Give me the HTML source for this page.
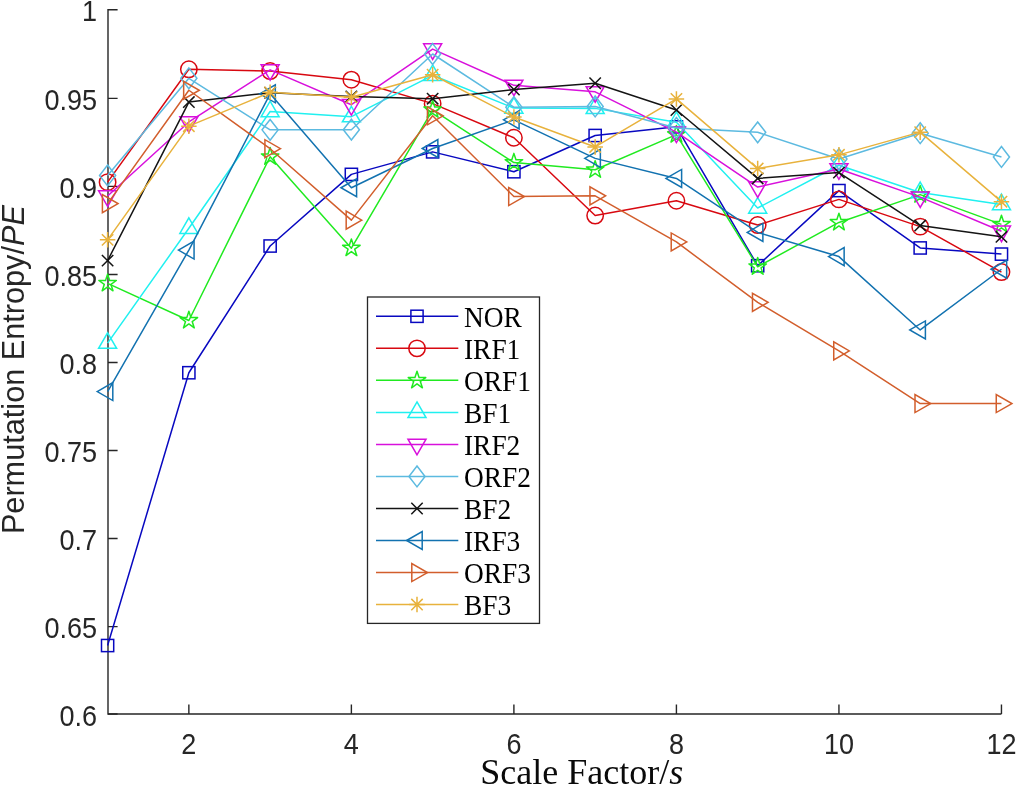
<!DOCTYPE html><html><head><meta charset="utf-8"><style>html,body{margin:0;padding:0;background:#fff;width:1016px;height:785px;overflow:hidden}svg{display:block}</style></head><body>
<svg width="1016" height="785" viewBox="0 0 1016 785">
<rect width="1016" height="785" fill="#fff"/>
<path d="M108 9V714H1001.46" fill="none" stroke="#262626" stroke-width="1.4"/>
<path d="M108 714H117.6M108 626.61H117.6M108 538.57H117.6M108 450.53H117.6M108 362.49H117.6M108 274.45H117.6M108 186.41H117.6M108 98.37H117.6M108 9.7H117.6M188.86 714V704.4M351.38 714V704.4M513.9 714V704.4M676.42 714V704.4M838.94 714V704.4M1001.46 714V704.4" fill="none" stroke="#262626" stroke-width="1.4"/>
<polyline points="107.6,645.54 188.86,372.74 270.12,246.02 351.38,174.38 432.64,151.86 513.9,171.74 595.16,135.49 676.42,126.86 757.68,265.73 838.94,190.58 920.2,247.95 1001.46,254.11" fill="none" stroke="#0808C0" stroke-width="1.5" stroke-linejoin="round"/>
<rect x="101.5" y="639.44" width="12.2" height="12.2" fill="none" stroke="#0808C0" stroke-width="1.5"/>
<rect x="182.76" y="366.64" width="12.2" height="12.2" fill="none" stroke="#0808C0" stroke-width="1.5"/>
<rect x="264.02" y="239.92" width="12.2" height="12.2" fill="none" stroke="#0808C0" stroke-width="1.5"/>
<rect x="345.28" y="168.28" width="12.2" height="12.2" fill="none" stroke="#0808C0" stroke-width="1.5"/>
<rect x="426.54" y="145.76" width="12.2" height="12.2" fill="none" stroke="#0808C0" stroke-width="1.5"/>
<rect x="507.8" y="165.64" width="12.2" height="12.2" fill="none" stroke="#0808C0" stroke-width="1.5"/>
<rect x="589.06" y="129.39" width="12.2" height="12.2" fill="none" stroke="#0808C0" stroke-width="1.5"/>
<rect x="670.32" y="120.76" width="12.2" height="12.2" fill="none" stroke="#0808C0" stroke-width="1.5"/>
<rect x="751.58" y="259.63" width="12.2" height="12.2" fill="none" stroke="#0808C0" stroke-width="1.5"/>
<rect x="832.84" y="184.48" width="12.2" height="12.2" fill="none" stroke="#0808C0" stroke-width="1.5"/>
<rect x="914.1" y="241.85" width="12.2" height="12.2" fill="none" stroke="#0808C0" stroke-width="1.5"/>
<rect x="995.36" y="248.01" width="12.2" height="12.2" fill="none" stroke="#0808C0" stroke-width="1.5"/>
<polyline points="107.6,182.13 188.86,69.31 270.12,71.07 351.38,79.7 432.64,103.63 513.9,137.78 595.16,215.57 676.42,200.78 757.68,225.07 838.94,199.38 920.2,226.66 1001.46,272.06" fill="none" stroke="#D80810" stroke-width="1.5" stroke-linejoin="round"/>
<circle cx="107.6" cy="182.13" r="8.2" fill="none" stroke="#D80810" stroke-width="1.5"/>
<circle cx="188.86" cy="69.31" r="8.2" fill="none" stroke="#D80810" stroke-width="1.5"/>
<circle cx="270.12" cy="71.07" r="8.2" fill="none" stroke="#D80810" stroke-width="1.5"/>
<circle cx="351.38" cy="79.7" r="8.2" fill="none" stroke="#D80810" stroke-width="1.5"/>
<circle cx="432.64" cy="103.63" r="8.2" fill="none" stroke="#D80810" stroke-width="1.5"/>
<circle cx="513.9" cy="137.78" r="8.2" fill="none" stroke="#D80810" stroke-width="1.5"/>
<circle cx="595.16" cy="215.57" r="8.2" fill="none" stroke="#D80810" stroke-width="1.5"/>
<circle cx="676.42" cy="200.78" r="8.2" fill="none" stroke="#D80810" stroke-width="1.5"/>
<circle cx="757.68" cy="225.07" r="8.2" fill="none" stroke="#D80810" stroke-width="1.5"/>
<circle cx="838.94" cy="199.38" r="8.2" fill="none" stroke="#D80810" stroke-width="1.5"/>
<circle cx="920.2" cy="226.66" r="8.2" fill="none" stroke="#D80810" stroke-width="1.5"/>
<circle cx="1001.46" cy="272.06" r="8.2" fill="none" stroke="#D80810" stroke-width="1.5"/>
<polyline points="107.6,283.33 188.86,320.46 270.12,156.78 351.38,248.13 432.64,109.79 513.9,162.59 595.16,169.81 676.42,134.61 757.68,266.78 838.94,222.43 920.2,194.62 1001.46,224.37" fill="none" stroke="#20EA20" stroke-width="1.5" stroke-linejoin="round"/>
<polygon points="107.6,274.13 109.67,280.48 116.35,280.49 110.94,284.41 113.01,290.77 107.6,286.84 102.19,290.77 104.26,284.41 98.85,280.49 105.53,280.48" fill="none" stroke="#20EA20" stroke-width="1.5" stroke-linejoin="round"/>
<polygon points="188.86,311.26 190.93,317.62 197.61,317.62 192.2,321.55 194.27,327.91 188.86,323.98 183.45,327.91 185.52,321.55 180.11,317.62 186.79,317.62" fill="none" stroke="#20EA20" stroke-width="1.5" stroke-linejoin="round"/>
<polygon points="270.12,147.58 272.19,153.94 278.87,153.94 273.46,157.87 275.53,164.23 270.12,160.3 264.71,164.23 266.78,157.87 261.37,153.94 268.05,153.94" fill="none" stroke="#20EA20" stroke-width="1.5" stroke-linejoin="round"/>
<polygon points="351.38,238.93 353.45,245.28 360.13,245.29 354.72,249.21 356.79,255.57 351.38,251.64 345.97,255.57 348.04,249.21 342.63,245.29 349.31,245.28" fill="none" stroke="#20EA20" stroke-width="1.5" stroke-linejoin="round"/>
<polygon points="432.64,100.59 434.71,106.95 441.39,106.95 435.98,110.88 438.05,117.23 432.64,113.31 427.23,117.23 429.3,110.88 423.89,106.95 430.57,106.95" fill="none" stroke="#20EA20" stroke-width="1.5" stroke-linejoin="round"/>
<polygon points="513.9,153.39 515.97,159.75 522.65,159.75 517.24,163.68 519.31,170.03 513.9,166.11 508.49,170.03 510.56,163.68 505.15,159.75 511.83,159.75" fill="none" stroke="#20EA20" stroke-width="1.5" stroke-linejoin="round"/>
<polygon points="595.16,160.61 597.23,166.96 603.91,166.97 598.5,170.89 600.57,177.25 595.16,173.32 589.75,177.25 591.82,170.89 586.41,166.97 593.09,166.96" fill="none" stroke="#20EA20" stroke-width="1.5" stroke-linejoin="round"/>
<polygon points="676.42,125.41 678.49,131.76 685.17,131.77 679.76,135.69 681.83,142.05 676.42,138.12 671.01,142.05 673.08,135.69 667.67,131.77 674.35,131.76" fill="none" stroke="#20EA20" stroke-width="1.5" stroke-linejoin="round"/>
<polygon points="757.68,257.58 759.75,263.94 766.43,263.94 761.02,267.87 763.09,274.23 757.68,270.3 752.27,274.23 754.34,267.87 748.93,263.94 755.61,263.94" fill="none" stroke="#20EA20" stroke-width="1.5" stroke-linejoin="round"/>
<polygon points="838.94,213.23 841.01,219.59 847.69,219.59 842.28,223.52 844.35,229.87 838.94,225.95 833.53,229.87 835.6,223.52 830.19,219.59 836.87,219.59" fill="none" stroke="#20EA20" stroke-width="1.5" stroke-linejoin="round"/>
<polygon points="920.2,185.42 922.27,191.78 928.95,191.78 923.54,195.71 925.61,202.07 920.2,198.14 914.79,202.07 916.86,195.71 911.45,191.78 918.13,191.78" fill="none" stroke="#20EA20" stroke-width="1.5" stroke-linejoin="round"/>
<polygon points="1001.46,215.17 1003.53,221.52 1010.21,221.53 1004.8,225.45 1006.87,231.81 1001.46,227.88 996.05,231.81 998.12,225.45 992.71,221.53 999.39,221.52" fill="none" stroke="#20EA20" stroke-width="1.5" stroke-linejoin="round"/>
<polyline points="107.6,343.17 188.86,228.24 270.12,111.55 351.38,116.66 432.64,75.3 513.9,108.03 595.16,108.38 676.42,122.29 757.68,208 838.94,165.23 920.2,192.51 1001.46,204.48" fill="none" stroke="#20F0F0" stroke-width="1.5" stroke-linejoin="round"/>
<polygon points="107.6,332.77 116.61,348.37 98.59,348.37" fill="none" stroke="#20F0F0" stroke-width="1.5"/>
<polygon points="188.86,217.84 197.87,233.44 179.85,233.44" fill="none" stroke="#20F0F0" stroke-width="1.5"/>
<polygon points="270.12,101.15 279.13,116.75 261.11,116.75" fill="none" stroke="#20F0F0" stroke-width="1.5"/>
<polygon points="351.38,106.26 360.39,121.86 342.37,121.86" fill="none" stroke="#20F0F0" stroke-width="1.5"/>
<polygon points="432.64,64.9 441.65,80.5 423.63,80.5" fill="none" stroke="#20F0F0" stroke-width="1.5"/>
<polygon points="513.9,97.63 522.91,113.23 504.89,113.23" fill="none" stroke="#20F0F0" stroke-width="1.5"/>
<polygon points="595.16,97.98 604.17,113.58 586.15,113.58" fill="none" stroke="#20F0F0" stroke-width="1.5"/>
<polygon points="676.42,111.89 685.43,127.49 667.41,127.49" fill="none" stroke="#20F0F0" stroke-width="1.5"/>
<polygon points="757.68,197.6 766.69,213.2 748.67,213.2" fill="none" stroke="#20F0F0" stroke-width="1.5"/>
<polygon points="838.94,154.83 847.95,170.43 829.93,170.43" fill="none" stroke="#20F0F0" stroke-width="1.5"/>
<polygon points="920.2,182.11 929.21,197.71 911.19,197.71" fill="none" stroke="#20F0F0" stroke-width="1.5"/>
<polygon points="1001.46,194.08 1010.47,209.68 992.45,209.68" fill="none" stroke="#20F0F0" stroke-width="1.5"/>
<polyline points="107.6,196.03 188.86,121.94 270.12,69.84 351.38,104.69 432.64,49.07 513.9,85.33 595.16,91.84 676.42,132.14 757.68,187.06 838.94,168.93 920.2,197.09 1001.46,231.23" fill="none" stroke="#D810DC" stroke-width="1.5" stroke-linejoin="round"/>
<polygon points="107.6,206.43 98.59,190.83 116.61,190.83" fill="none" stroke="#D810DC" stroke-width="1.5"/>
<polygon points="188.86,132.34 179.85,116.74 197.87,116.74" fill="none" stroke="#D810DC" stroke-width="1.5"/>
<polygon points="270.12,80.24 261.11,64.64 279.13,64.64" fill="none" stroke="#D810DC" stroke-width="1.5"/>
<polygon points="351.38,115.09 342.37,99.49 360.39,99.49" fill="none" stroke="#D810DC" stroke-width="1.5"/>
<polygon points="432.64,59.47 423.63,43.87 441.65,43.87" fill="none" stroke="#D810DC" stroke-width="1.5"/>
<polygon points="513.9,95.73 504.89,80.13 522.91,80.13" fill="none" stroke="#D810DC" stroke-width="1.5"/>
<polygon points="595.16,102.24 586.15,86.64 604.17,86.64" fill="none" stroke="#D810DC" stroke-width="1.5"/>
<polygon points="676.42,142.54 667.41,126.94 685.43,126.94" fill="none" stroke="#D810DC" stroke-width="1.5"/>
<polygon points="757.68,197.46 748.67,181.86 766.69,181.86" fill="none" stroke="#D810DC" stroke-width="1.5"/>
<polygon points="838.94,179.33 829.93,163.73 847.95,163.73" fill="none" stroke="#D810DC" stroke-width="1.5"/>
<polygon points="920.2,207.49 911.19,191.89 929.21,191.89" fill="none" stroke="#D810DC" stroke-width="1.5"/>
<polygon points="1001.46,241.63 992.45,226.03 1010.47,226.03" fill="none" stroke="#D810DC" stroke-width="1.5"/>
<polyline points="107.6,175.44 188.86,78.29 270.12,129.86 351.38,129.68 432.64,54 513.9,107.15 595.16,106.45 676.42,127.92 757.68,132.32 838.94,159.07 920.2,133.2 1001.46,156.96" fill="none" stroke="#5CBAE0" stroke-width="1.5" stroke-linejoin="round"/>
<polygon points="107.6,165.04 115.65,175.44 107.6,185.84 99.55,175.44" fill="none" stroke="#5CBAE0" stroke-width="1.5"/>
<polygon points="188.86,67.89 196.91,78.29 188.86,88.69 180.81,78.29" fill="none" stroke="#5CBAE0" stroke-width="1.5"/>
<polygon points="270.12,119.46 278.17,129.86 270.12,140.26 262.07,129.86" fill="none" stroke="#5CBAE0" stroke-width="1.5"/>
<polygon points="351.38,119.28 359.43,129.68 351.38,140.08 343.33,129.68" fill="none" stroke="#5CBAE0" stroke-width="1.5"/>
<polygon points="432.64,43.6 440.69,54 432.64,64.4 424.59,54" fill="none" stroke="#5CBAE0" stroke-width="1.5"/>
<polygon points="513.9,96.75 521.95,107.15 513.9,117.55 505.85,107.15" fill="none" stroke="#5CBAE0" stroke-width="1.5"/>
<polygon points="595.16,96.05 603.21,106.45 595.16,116.85 587.11,106.45" fill="none" stroke="#5CBAE0" stroke-width="1.5"/>
<polygon points="676.42,117.52 684.47,127.92 676.42,138.32 668.37,127.92" fill="none" stroke="#5CBAE0" stroke-width="1.5"/>
<polygon points="757.68,121.92 765.73,132.32 757.68,142.72 749.63,132.32" fill="none" stroke="#5CBAE0" stroke-width="1.5"/>
<polygon points="838.94,148.67 846.99,159.07 838.94,169.47 830.89,159.07" fill="none" stroke="#5CBAE0" stroke-width="1.5"/>
<polygon points="920.2,122.8 928.25,133.2 920.2,143.6 912.15,133.2" fill="none" stroke="#5CBAE0" stroke-width="1.5"/>
<polygon points="1001.46,146.56 1009.51,156.96 1001.46,167.36 993.41,156.96" fill="none" stroke="#5CBAE0" stroke-width="1.5"/>
<polyline points="107.6,260.62 188.86,102.05 270.12,92.72 351.38,96.42 432.64,98.7 513.9,89.55 595.16,83.22 676.42,109.97 757.68,178.43 838.94,172.62 920.2,225.6 1001.46,236.86" fill="none" stroke="#141414" stroke-width="1.5" stroke-linejoin="round"/>
<path d="M101.9 254.92L113.3 266.32M101.9 266.32L113.3 254.92" fill="none" stroke="#141414" stroke-width="1.5"/>
<path d="M183.16 96.35L194.56 107.75M183.16 107.75L194.56 96.35" fill="none" stroke="#141414" stroke-width="1.5"/>
<path d="M264.42 87.02L275.82 98.42M264.42 98.42L275.82 87.02" fill="none" stroke="#141414" stroke-width="1.5"/>
<path d="M345.68 90.72L357.08 102.12M345.68 102.12L357.08 90.72" fill="none" stroke="#141414" stroke-width="1.5"/>
<path d="M426.94 93L438.34 104.4M426.94 104.4L438.34 93" fill="none" stroke="#141414" stroke-width="1.5"/>
<path d="M508.2 83.85L519.6 95.25M508.2 95.25L519.6 83.85" fill="none" stroke="#141414" stroke-width="1.5"/>
<path d="M589.46 77.52L600.86 88.92M589.46 88.92L600.86 77.52" fill="none" stroke="#141414" stroke-width="1.5"/>
<path d="M670.72 104.27L682.12 115.67M670.72 115.67L682.12 104.27" fill="none" stroke="#141414" stroke-width="1.5"/>
<path d="M751.98 172.73L763.38 184.13M751.98 184.13L763.38 172.73" fill="none" stroke="#141414" stroke-width="1.5"/>
<path d="M833.24 166.92L844.64 178.32M833.24 178.32L844.64 166.92" fill="none" stroke="#141414" stroke-width="1.5"/>
<path d="M914.5 219.9L925.9 231.3M914.5 231.3L925.9 219.9" fill="none" stroke="#141414" stroke-width="1.5"/>
<path d="M995.76 231.16L1007.16 242.56M995.76 242.56L1007.16 231.16" fill="none" stroke="#141414" stroke-width="1.5"/>
<polyline points="107.6,391.57 188.86,250.06 270.12,93.78 351.38,187.76 432.64,148.51 513.9,119.82 595.16,158.37 676.42,178.43 757.68,232.46 838.94,256.58 920.2,329.97 1001.46,269.25" fill="none" stroke="#1272B0" stroke-width="1.5" stroke-linejoin="round"/>
<polygon points="97.2,391.57 112.8,382.56 112.8,400.57" fill="none" stroke="#1272B0" stroke-width="1.5"/>
<polygon points="178.46,250.06 194.06,241.06 194.06,259.07" fill="none" stroke="#1272B0" stroke-width="1.5"/>
<polygon points="259.72,93.78 275.32,84.77 275.32,102.78" fill="none" stroke="#1272B0" stroke-width="1.5"/>
<polygon points="340.98,187.76 356.58,178.75 356.58,196.77" fill="none" stroke="#1272B0" stroke-width="1.5"/>
<polygon points="422.24,148.51 437.84,139.51 437.84,157.52" fill="none" stroke="#1272B0" stroke-width="1.5"/>
<polygon points="503.5,119.82 519.1,110.82 519.1,128.83" fill="none" stroke="#1272B0" stroke-width="1.5"/>
<polygon points="584.76,158.37 600.36,149.36 600.36,167.37" fill="none" stroke="#1272B0" stroke-width="1.5"/>
<polygon points="666.02,178.43 681.62,169.43 681.62,187.44" fill="none" stroke="#1272B0" stroke-width="1.5"/>
<polygon points="747.28,232.46 762.88,223.46 762.88,241.47" fill="none" stroke="#1272B0" stroke-width="1.5"/>
<polygon points="828.54,256.58 844.14,247.57 844.14,265.58" fill="none" stroke="#1272B0" stroke-width="1.5"/>
<polygon points="909.8,329.97 925.4,320.96 925.4,338.97" fill="none" stroke="#1272B0" stroke-width="1.5"/>
<polygon points="991.06,269.25 1006.66,260.24 1006.66,278.25" fill="none" stroke="#1272B0" stroke-width="1.5"/>
<polyline points="107.6,203.6 188.86,90.26 270.12,148.69 351.38,220.14 432.64,115.78 513.9,196.56 595.16,195.86 676.42,241.97 757.68,302.34 838.94,350.91 920.2,403.54 1001.46,403.54" fill="none" stroke="#D25E2C" stroke-width="1.5" stroke-linejoin="round"/>
<polygon points="118,203.6 102.4,212.61 102.4,194.59" fill="none" stroke="#D25E2C" stroke-width="1.5"/>
<polygon points="199.26,90.26 183.66,99.26 183.66,81.25" fill="none" stroke="#D25E2C" stroke-width="1.5"/>
<polygon points="280.52,148.69 264.92,157.69 264.92,139.68" fill="none" stroke="#D25E2C" stroke-width="1.5"/>
<polygon points="361.78,220.14 346.18,229.15 346.18,211.14" fill="none" stroke="#D25E2C" stroke-width="1.5"/>
<polygon points="443.04,115.78 427.44,124.78 427.44,106.77" fill="none" stroke="#D25E2C" stroke-width="1.5"/>
<polygon points="524.3,196.56 508.7,205.57 508.7,187.55" fill="none" stroke="#D25E2C" stroke-width="1.5"/>
<polygon points="605.56,195.86 589.96,204.86 589.96,186.85" fill="none" stroke="#D25E2C" stroke-width="1.5"/>
<polygon points="686.82,241.97 671.22,250.97 671.22,232.96" fill="none" stroke="#D25E2C" stroke-width="1.5"/>
<polygon points="768.08,302.34 752.48,311.34 752.48,293.33" fill="none" stroke="#D25E2C" stroke-width="1.5"/>
<polygon points="849.34,350.91 833.74,359.92 833.74,341.91" fill="none" stroke="#D25E2C" stroke-width="1.5"/>
<polygon points="930.6,403.54 915,412.54 915,394.53" fill="none" stroke="#D25E2C" stroke-width="1.5"/>
<polygon points="1011.86,403.54 996.26,412.54 996.26,394.53" fill="none" stroke="#D25E2C" stroke-width="1.5"/>
<polyline points="107.6,239.86 188.86,126.16 270.12,92.37 351.38,97.3 432.64,74.77 513.9,117.01 595.16,146.93 676.42,98.88 757.68,168.58 838.94,154.85 920.2,132.14 1001.46,201.66" fill="none" stroke="#E8B23C" stroke-width="1.5" stroke-linejoin="round"/>
<path d="M99.85 239.86L115.35 239.86M107.6 232.11L107.6 247.61M101.9 234.16L113.3 245.56M101.9 245.56L113.3 234.16" fill="none" stroke="#E8B23C" stroke-width="1.5"/>
<path d="M181.11 126.16L196.61 126.16M188.86 118.41L188.86 133.91M183.16 120.46L194.56 131.86M183.16 131.86L194.56 120.46" fill="none" stroke="#E8B23C" stroke-width="1.5"/>
<path d="M262.37 92.37L277.87 92.37M270.12 84.62L270.12 100.12M264.42 86.67L275.82 98.07M264.42 98.07L275.82 86.67" fill="none" stroke="#E8B23C" stroke-width="1.5"/>
<path d="M343.63 97.3L359.13 97.3M351.38 89.55L351.38 105.05M345.68 91.6L357.08 103M345.68 103L357.08 91.6" fill="none" stroke="#E8B23C" stroke-width="1.5"/>
<path d="M424.89 74.77L440.39 74.77M432.64 67.02L432.64 82.52M426.94 69.07L438.34 80.47M426.94 80.47L438.34 69.07" fill="none" stroke="#E8B23C" stroke-width="1.5"/>
<path d="M506.15 117.01L521.65 117.01M513.9 109.26L513.9 124.76M508.2 111.31L519.6 122.71M508.2 122.71L519.6 111.31" fill="none" stroke="#E8B23C" stroke-width="1.5"/>
<path d="M587.41 146.93L602.91 146.93M595.16 139.18L595.16 154.68M589.46 141.23L600.86 152.63M589.46 152.63L600.86 141.23" fill="none" stroke="#E8B23C" stroke-width="1.5"/>
<path d="M668.67 98.88L684.17 98.88M676.42 91.13L676.42 106.63M670.72 93.18L682.12 104.58M670.72 104.58L682.12 93.18" fill="none" stroke="#E8B23C" stroke-width="1.5"/>
<path d="M749.93 168.58L765.43 168.58M757.68 160.83L757.68 176.33M751.98 162.88L763.38 174.28M751.98 174.28L763.38 162.88" fill="none" stroke="#E8B23C" stroke-width="1.5"/>
<path d="M831.19 154.85L846.69 154.85M838.94 147.1L838.94 162.6M833.24 149.15L844.64 160.55M833.24 160.55L844.64 149.15" fill="none" stroke="#E8B23C" stroke-width="1.5"/>
<path d="M912.45 132.14L927.95 132.14M920.2 124.39L920.2 139.89M914.5 126.44L925.9 137.84M914.5 137.84L925.9 126.44" fill="none" stroke="#E8B23C" stroke-width="1.5"/>
<path d="M993.71 201.66L1009.21 201.66M1001.46 193.91L1001.46 209.41M995.76 195.96L1007.16 207.36M995.76 207.36L1007.16 195.96" fill="none" stroke="#E8B23C" stroke-width="1.5"/>
<g font-family="Liberation Sans, Arial, sans-serif" font-size="29.4" fill="#262626"><text transform="translate(97.1 725.6) scale(0.92 1)" text-anchor="end">0.6</text><text transform="translate(97.1 637.6) scale(0.92 1)" text-anchor="end">0.65</text><text transform="translate(97.1 549.6) scale(0.92 1)" text-anchor="end">0.7</text><text transform="translate(97.1 461.6) scale(0.92 1)" text-anchor="end">0.75</text><text transform="translate(97.1 373.6) scale(0.92 1)" text-anchor="end">0.8</text><text transform="translate(97.1 285.6) scale(0.92 1)" text-anchor="end">0.85</text><text transform="translate(97.1 197.6) scale(0.92 1)" text-anchor="end">0.9</text><text transform="translate(97.1 109.6) scale(0.92 1)" text-anchor="end">0.95</text><text transform="translate(97.1 20.8) scale(0.92 1)" text-anchor="end">1</text><text transform="translate(188.86 753.6) scale(0.92 1)" text-anchor="middle">2</text><text transform="translate(351.38 753.6) scale(0.92 1)" text-anchor="middle">4</text><text transform="translate(513.9 753.6) scale(0.92 1)" text-anchor="middle">6</text><text transform="translate(676.42 753.6) scale(0.92 1)" text-anchor="middle">8</text><text transform="translate(838.94 753.6) scale(0.92 1)" text-anchor="middle">10</text><text transform="translate(1001.46 753.6) scale(0.92 1)" text-anchor="middle">12</text></g>
<text transform="translate(24.3 534.1) rotate(-90) scale(0.974 1)" font-family="Liberation Sans, Arial, sans-serif" font-size="31.5" fill="#262626">Permutation Entropy/<tspan font-style="italic">PE</tspan></text>
<text x="480.3" y="783.9" font-family="Liberation Serif, Times New Roman, serif" font-size="36" fill="#0a0a0a">Scale Factor/<tspan font-style="italic">s</tspan></text>
<rect x="367.5" y="297" width="172" height="326.4" fill="#fff" stroke="#262626" stroke-width="1.3"/>
<line x1="376" y1="316.3" x2="458.3" y2="316.3" stroke="#0808C0" stroke-width="1.5"/><rect x="410.9" y="310.2" width="12.2" height="12.2" fill="none" stroke="#0808C0" stroke-width="1.5"/><text transform="translate(464 326.7) scale(0.965 1)" font-family="Liberation Serif, Times New Roman, serif" font-size="28.4" fill="#000">NOR</text><line x1="376" y1="348.33" x2="458.3" y2="348.33" stroke="#D80810" stroke-width="1.5"/><circle cx="417" cy="348.33" r="8.2" fill="none" stroke="#D80810" stroke-width="1.5"/><text transform="translate(464 358.73) scale(0.965 1)" font-family="Liberation Serif, Times New Roman, serif" font-size="28.4" fill="#000">IRF1</text><line x1="376" y1="380.36" x2="458.3" y2="380.36" stroke="#20EA20" stroke-width="1.5"/><polygon points="417,371.16 419.07,377.52 425.75,377.52 420.34,381.45 422.41,387.8 417,383.87 411.59,387.8 413.66,381.45 408.25,377.52 414.93,377.52" fill="none" stroke="#20EA20" stroke-width="1.5" stroke-linejoin="round"/><text transform="translate(464 390.76) scale(0.965 1)" font-family="Liberation Serif, Times New Roman, serif" font-size="28.4" fill="#000">ORF1</text><line x1="376" y1="412.39" x2="458.3" y2="412.39" stroke="#20F0F0" stroke-width="1.5"/><polygon points="417,401.99 426.01,417.59 407.99,417.59" fill="none" stroke="#20F0F0" stroke-width="1.5"/><text transform="translate(464 422.79) scale(0.965 1)" font-family="Liberation Serif, Times New Roman, serif" font-size="28.4" fill="#000">BF1</text><line x1="376" y1="444.42" x2="458.3" y2="444.42" stroke="#D810DC" stroke-width="1.5"/><polygon points="417,454.82 407.99,439.22 426.01,439.22" fill="none" stroke="#D810DC" stroke-width="1.5"/><text transform="translate(464 454.82) scale(0.965 1)" font-family="Liberation Serif, Times New Roman, serif" font-size="28.4" fill="#000">IRF2</text><line x1="376" y1="476.45" x2="458.3" y2="476.45" stroke="#5CBAE0" stroke-width="1.5"/><polygon points="417,466.05 425.05,476.45 417,486.85 408.95,476.45" fill="none" stroke="#5CBAE0" stroke-width="1.5"/><text transform="translate(464 486.85) scale(0.965 1)" font-family="Liberation Serif, Times New Roman, serif" font-size="28.4" fill="#000">ORF2</text><line x1="376" y1="508.48" x2="458.3" y2="508.48" stroke="#141414" stroke-width="1.5"/><path d="M411.3 502.78L422.7 514.18M411.3 514.18L422.7 502.78" fill="none" stroke="#141414" stroke-width="1.5"/><text transform="translate(464 518.88) scale(0.965 1)" font-family="Liberation Serif, Times New Roman, serif" font-size="28.4" fill="#000">BF2</text><line x1="376" y1="540.51" x2="458.3" y2="540.51" stroke="#1272B0" stroke-width="1.5"/><polygon points="406.6,540.51 422.2,531.5 422.2,549.52" fill="none" stroke="#1272B0" stroke-width="1.5"/><text transform="translate(464 550.91) scale(0.965 1)" font-family="Liberation Serif, Times New Roman, serif" font-size="28.4" fill="#000">IRF3</text><line x1="376" y1="572.54" x2="458.3" y2="572.54" stroke="#D25E2C" stroke-width="1.5"/><polygon points="427.4,572.54 411.8,581.55 411.8,563.53" fill="none" stroke="#D25E2C" stroke-width="1.5"/><text transform="translate(464 582.94) scale(0.965 1)" font-family="Liberation Serif, Times New Roman, serif" font-size="28.4" fill="#000">ORF3</text><line x1="376" y1="604.57" x2="458.3" y2="604.57" stroke="#E8B23C" stroke-width="1.5"/><path d="M409.25 604.57L424.75 604.57M417 596.82L417 612.32M411.3 598.87L422.7 610.27M411.3 610.27L422.7 598.87" fill="none" stroke="#E8B23C" stroke-width="1.5"/><text transform="translate(464 614.97) scale(0.965 1)" font-family="Liberation Serif, Times New Roman, serif" font-size="28.4" fill="#000">BF3</text>
</svg></body></html>
